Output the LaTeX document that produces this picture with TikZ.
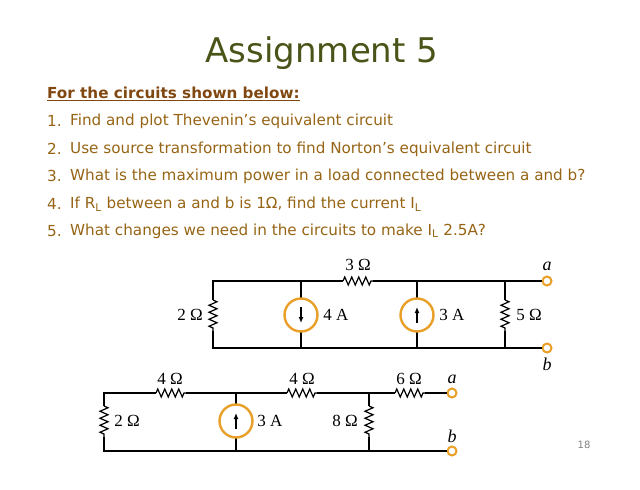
\documentclass[tikz,border=0pt]{standalone}
\usepackage{fontspec}
\setmainfont{DejaVu Sans}
\newfontfamily\ckt{Liberation Serif}
\usetikzlibrary{decorations.pathmorphing,arrows.meta}
\definecolor{ttl}{RGB}{72,84,24}
\definecolor{hdr}{RGB}{128,72,16}
\definecolor{itm}{RGB}{150,100,20}
\definecolor{org}{RGB}{232,160,40}
\tikzset{
 wire/.style={line width=1.4pt},
 res/.style={line width=1.2pt,decorate,decoration={zigzag,segment length=7pt,amplitude=4pt}},
 src/.style={circle,draw=org,line width=2.4pt,minimum size=33pt,inner sep=0pt,fill=white},
 term/.style={circle,draw=org,line width=2pt,minimum size=9pt,inner sep=0pt,fill=white},
 lbl/.style={font=\ckt\fontsize{17}{17}\selectfont,inner sep=1pt},
 tl/.style={font=\ckt\itshape\fontsize{18}{18}\selectfont,inner sep=1pt},
 item/.style={anchor=west,text=itm,font=\fontsize{15.2}{17}\selectfont,inner sep=0pt},
}
\begin{document}
\begin{tikzpicture}[x=1pt,y=-1pt]
\useasboundingbox (0,0) rectangle (640,490);
\node[text=ttl,font=\fontsize{34}{36}\selectfont] (title) at (322,53) {Assignment 5};
\node[anchor=west,text=hdr,font=\bfseries\fontsize{15.2}{17}\selectfont,inner sep=0pt] (h) at (47,94) {\underline{For the circuits shown below:}};
\node[item] (n1) at (47,121) {1.}; \node[item] (i1) at (70,121) {Find and plot Thevenin’s equivalent circuit};
\node[item] (n2) at (47,149) {2.}; \node[item] (i2) at (70,149) {Use source transformation to find Norton’s equivalent circuit};
\node[item] (n3) at (47,176) {3.}; \node[item] (i3) at (70,176) {What is the maximum power in a load connected between a and b?};
\node[item] (n4) at (47,204) {4.}; \node[item] (i4) at (70,204) {If R\textsubscript{L} between a and b is 1Ω, find the current I\textsubscript{L}};
\node[item] (n5) at (47,231) {5.}; \node[item] (i5) at (70,231) {What changes we need in the circuits to make I\textsubscript{L} 2.5A?};
\node[text=gray,font=\fontsize{10}{11}\selectfont] (pg) at (584,445) {18};

% circuit 1
\coordinate (A1) at (213,281); \coordinate (A2) at (301,281); \coordinate (R3a) at (343,281); \coordinate (R3b) at (373,281);
\coordinate (A3) at (417,281); \coordinate (A4) at (505,281);
\coordinate (B1) at (213,348); \coordinate (B2) at (301,348); \coordinate (B3) at (417,348); \coordinate (B4) at (505,348);
\coordinate (R2a) at (213,300); \coordinate (R2b) at (213,331);
\coordinate (R5a) at (505,300); \coordinate (R5b) at (505,331);
\node[term] (ta) at (547,281) {}; \node[term] (tb) at (547,348) {};
\draw[wire] (R2a) -- (A1) -- (A2) -- (R3a); \draw[res] (R3a) -- (R3b);
\draw[wire] (R3b) -- (A3) -- (A4) -- (ta.west);
\draw[wire] (R2b) -- (B1) -- (B4) -- (tb.west);
\draw[res] (R2a) -- (R2b); \draw[wire] (A4) -- (R5a); \draw[res] (R5a) -- (R5b); \draw[wire] (R5b) -- (B4);
\draw[wire] (A2) -- (B2); \draw[wire] (A3) -- (B3);
\node[src] (s4) at (301,315) {}; \node[src] (s3) at (417,315) {};
\draw[line width=1.3pt,-{Latex[length=6pt,width=5pt]}] ([yshift=8pt]s4.center) -- ([yshift=-8pt]s4.center);
\draw[line width=1.3pt,-{Latex[length=6pt,width=5pt]}] ([yshift=-8pt]s3.center) -- ([yshift=8pt]s3.center);
\node[lbl] at (358,265) {3 Ω}; \node[lbl] at (190,315) {2 Ω};
\node[lbl] at (336,315) {4 A}; \node[lbl] at (452,315) {3 A};
\node[lbl] at (529,315) {5 Ω};
\node[tl] at (547,266) {a};
\node[tl] at (547,364) {b};

% circuit 2
\coordinate (C1) at (104,393); \coordinate (C2) at (236,393); \coordinate (C3) at (369,393);
\coordinate (D1) at (104,451); \coordinate (D2) at (236,451); \coordinate (D3) at (369,451);
\coordinate (Ra1) at (156,393); \coordinate (Rb1) at (186,393);
\coordinate (Ra2) at (287,393); \coordinate (Rb2) at (317,393);
\coordinate (Ra3) at (395,393); \coordinate (Rb3) at (425,393);
\coordinate (Rv1) at (104,406); \coordinate (Rv2) at (104,437);
\coordinate (Rw1) at (369,406); \coordinate (Rw2) at (369,437);
\node[term] (tc) at (452,393) {}; \node[term] (td) at (452,451) {};
\draw[wire] (Rv1) -- (C1) -- (Ra1); \draw[res] (Ra1) -- (Rb1);
\draw[wire] (Rb1) -- (C2) -- (Ra2); \draw[res] (Ra2) -- (Rb2);
\draw[wire] (Rb2) -- (C3) -- (Ra3); \draw[res] (Ra3) -- (Rb3); \draw[wire] (Rb3) -- (tc.west);
\draw[res] (Rv1) -- (Rv2); \draw[wire] (Rv2) -- (D1) -- (td.west);
\draw[wire] (C3) -- (Rw1); \draw[res] (Rw1) -- (Rw2); \draw[wire] (Rw2) -- (D3);
\draw[wire] (C2) -- (D2);
\node[src] (s5) at (236,421) {};
\draw[line width=1.3pt,-{Latex[length=6pt,width=5pt]}] ([yshift=-8pt]s5.center) -- ([yshift=8pt]s5.center);
\node[lbl] at (170,379) {4 Ω}; \node[lbl] at (302,379) {4 Ω}; \node[lbl] at (409,379) {6 Ω};
\node[lbl] at (127,421) {2 Ω}; \node[lbl] at (270,421) {3 A}; \node[lbl] at (345,421) {8 Ω};
\node[tl] at (452,379) {a};
\node[tl] at (452,436) {b};
\end{tikzpicture}
\end{document}
